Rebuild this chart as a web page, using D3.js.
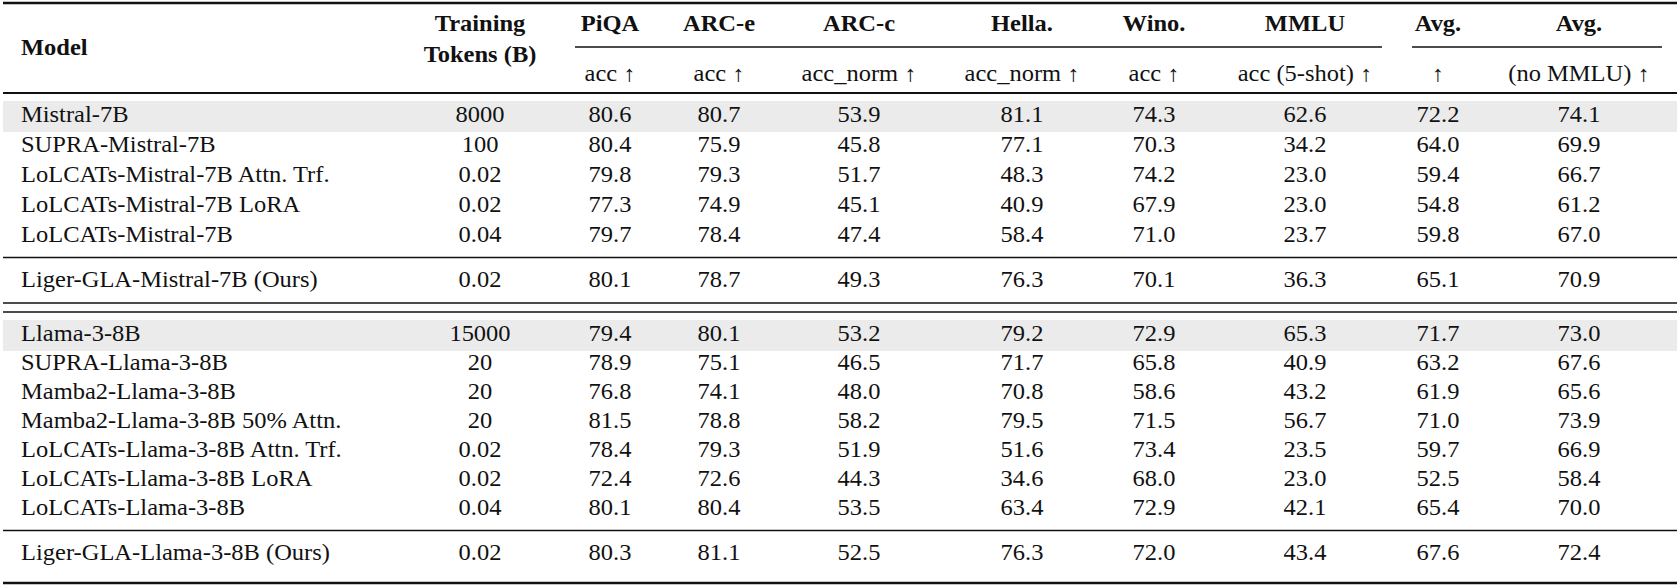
<!DOCTYPE html>
<html><head><meta charset="utf-8">
<script src="https://cdn.jsdelivr.net/npm/d3@7"></script>
<style>body{margin:0;background:#fff}svg{display:block}text{font-family:"Liberation Serif","DejaVu Serif",serif;fill:#111}</style>
</head><body><svg id="c" width="1679" height="585"></svg>
<script>
const columns = ["Tokens","PiQA","ARC-e","ARC-c","Hella.","Wino.","MMLU","Avg.","Avg2"];
const headTop = ["","PiQA","ARC-e","ARC-c","Hella.","Wino.","MMLU","Avg.","Avg."];
const headSub = ["","acc ↑","acc ↑","acc_norm ↑","acc_norm ↑","acc ↑","acc (5-shot) ↑","↑","(no MMLU) ↑"];
const colX = [480,610,719,859,1022,1154,1305,1438,1579];
const modelsA = ["Mistral-7B","SUPRA-Mistral-7B","LoLCATs-Mistral-7B Attn. Trf.","LoLCATs-Mistral-7B LoRA","LoLCATs-Mistral-7B","Liger-GLA-Mistral-7B (Ours)"];
const valuesA = [
 ["8000","80.6","80.7","53.9","81.1","74.3","62.6","72.2","74.1"],
 ["100","80.4","75.9","45.8","77.1","70.3","34.2","64.0","69.9"],
 ["0.02","79.8","79.3","51.7","48.3","74.2","23.0","59.4","66.7"],
 ["0.02","77.3","74.9","45.1","40.9","67.9","23.0","54.8","61.2"],
 ["0.04","79.7","78.4","47.4","58.4","71.0","23.7","59.8","67.0"],
 ["0.02","80.1","78.7","49.3","76.3","70.1","36.3","65.1","70.9"]];
const modelsB = ["Llama-3-8B","SUPRA-Llama-3-8B","Mamba2-Llama-3-8B","Mamba2-Llama-3-8B 50% Attn.","LoLCATs-Llama-3-8B Attn. Trf.","LoLCATs-Llama-3-8B LoRA","LoLCATs-Llama-3-8B","Liger-GLA-Llama-3-8B (Ours)"];
const valuesB = [
 ["15000","79.4","80.1","53.2","79.2","72.9","65.3","71.7","73.0"],
 ["20","78.9","75.1","46.5","71.7","65.8","40.9","63.2","67.6"],
 ["20","76.8","74.1","48.0","70.8","58.6","43.2","61.9","65.6"],
 ["20","81.5","78.8","58.2","79.5","71.5","56.7","71.0","73.9"],
 ["0.02","78.4","79.3","51.9","51.6","73.4","23.5","59.7","66.9"],
 ["0.02","72.4","72.6","44.3","34.6","68.0","23.0","52.5","58.4"],
 ["0.04","80.1","80.4","53.5","63.4","72.9","42.1","65.4","70.0"],
 ["0.02","80.3","81.1","52.5","76.3","72.0","43.4","67.6","72.4"]];

const svg = d3.select("#c");
const x = d3.scaleOrdinal().domain(columns).range(colX);
const L = 3, R = 1677, fs = 24.5, sy = 0.9;
const line = (y, w, x1=L, x2=R) => svg.append("line").attr("x1",x1).attr("x2",x2).attr("y1",y).attr("y2",y).attr("stroke","#111").attr("stroke-width",w);
function txt(tx, ty, s, anchor="middle", bold=false) {
  svg.append("text").attr("transform",`translate(${tx},${ty}) scale(1,${sy})`)
    .attr("text-anchor",anchor).attr("font-size",fs).attr("font-weight",bold?"bold":"normal").text(s);
}

// header
line(3,2.5);
txt(21,55,"Model","start",true);
txt(x("Tokens"),31,"Training","middle",true);
txt(x("Tokens"),62,"Tokens (B)","middle",true);
columns.forEach((c,i)=>{ if(!headTop[i]) return;
  txt(x(c),31,headTop[i],"middle",true);
  txt(x(c),81,headSub[i]);
});
line(47,1.3,575,1382);
line(47,1.3,1412,1662);
line(93,2.2);

function block(models, values, y0, step, sepAfter, sepGap) {
  const y = d3.scaleLinear().domain([0,1]).range([y0, y0+step]);
  models.forEach((m,i)=>{
    const yy = y(i) + (i>=sepAfter ? sepGap : 0);
    if(i===0) svg.append("rect").attr("x",L).attr("y",yy-21).attr("width",R-L).attr("height",31).attr("fill","#ebebeb");
    txt(21,yy,m,"start");
    values[i].forEach((v,j)=>txt(x(columns[j]),yy,v));
    if(i===sepAfter-1) line(yy+15.5,1.3);
  });
}
block(modelsA, valuesA, 122, 30, 5, 15);
line(303,1.3); line(312,1.3);
block(modelsB, valuesB, 341, 29, 7, 16);
line(583,2.5);
</script></body></html>
